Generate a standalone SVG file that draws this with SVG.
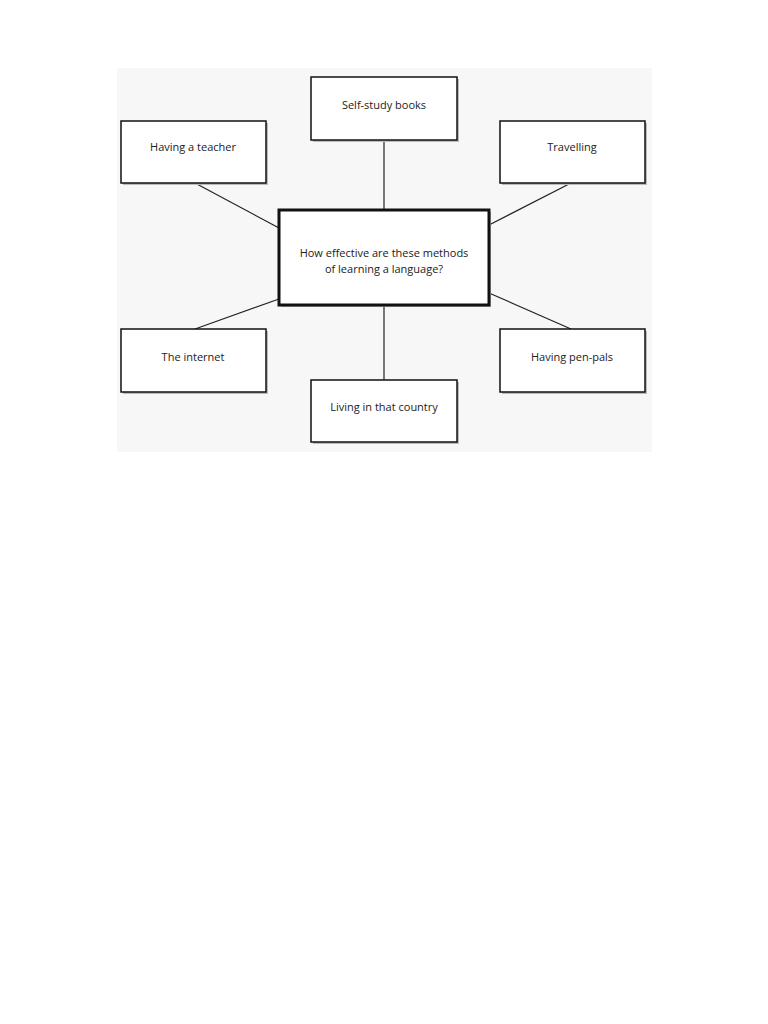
<svg xmlns="http://www.w3.org/2000/svg" width="768" height="1024" viewBox="0 0 768 1024">
<style>
.b{fill:#fff;stroke:#111;stroke-width:1.5}
.s{fill:#bbb}
.t{font-family:"Open Sans","Liberation Sans",sans-serif;font-size:11px;fill:#222;text-anchor:middle}
.c line{stroke:#222;stroke-width:1.2}
</style>
<rect width="768" height="1024" fill="#fff"/>
<rect x="117" y="68" width="535" height="384" fill="#f7f7f7"/>
<g class="c">
<line x1="195" y1="183" x2="279" y2="228"/>
<line x1="384" y1="140" x2="384" y2="210"/>
<line x1="489" y1="225" x2="571" y2="183"/>
<line x1="195" y1="329" x2="279" y2="299"/>
<line x1="489" y1="293" x2="571" y2="329"/>
<line x1="384" y1="305" x2="384" y2="380"/>
</g>
<g id="self"><rect class="s" x="313" y="79" width="146" height="63"/><rect class="b" x="311" y="77" width="146" height="63"/><text class="t" x="384" y="109">Self-study books</text></g>
<g id="teacher"><rect class="s" x="123" y="123" width="145" height="62"/><rect class="b" x="121" y="121" width="145" height="62"/><text class="t" x="193" y="151">Having a teacher</text></g>
<g id="travel"><rect class="s" x="502" y="123" width="145" height="62"/><rect class="b" x="500" y="121" width="145" height="62"/><text class="t" x="572" y="151">Travelling</text></g>
<g id="center"><rect class="s" x="281" y="212" width="210" height="95"/><rect x="279" y="210" width="210" height="95" fill="#fff" stroke="#111" stroke-width="3"/><text class="t" x="384" y="257">How effective are these methods</text><text class="t" x="384" y="273">of learning a language?</text></g>
<g id="internet"><rect class="s" x="123" y="331" width="145" height="63"/><rect class="b" x="121" y="329" width="145" height="63"/><text class="t" x="193" y="361">The internet</text></g>
<g id="penpals"><rect class="s" x="502" y="331" width="145" height="63"/><rect class="b" x="500" y="329" width="145" height="63"/><text class="t" x="572" y="361">Having pen-pals</text></g>
<g id="living"><rect class="s" x="313" y="382" width="146" height="62"/><rect class="b" x="311" y="380" width="146" height="62"/><text class="t" x="384" y="411">Living in that country</text></g>
</svg>
